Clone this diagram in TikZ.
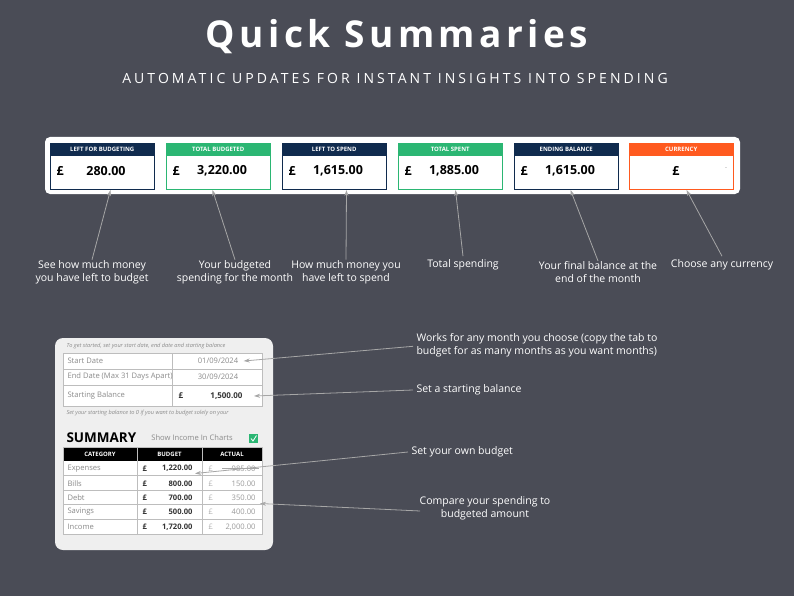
\documentclass[tikz,border=0pt]{standalone}
\usepackage{fontspec}
\setmainfont{Open Sans}
\newfontfamily\spaced[LetterSpace=12]{Open Sans}
\newfontfamily\spacedsub[LetterSpace=22]{Open Sans}
\usetikzlibrary{positioning}
\usetikzlibrary{arrows.meta}
\definecolor{bgdark}{HTML}{4A4C56}
\definecolor{navy}{HTML}{102B4E}
\definecolor{mint}{HTML}{2BB673}
\definecolor{flame}{HTML}{FF5A1F}
\definecolor{panel}{HTML}{EFEFEF}
\definecolor{gridc}{HTML}{BDBDBD}
\definecolor{faint}{HTML}{8A8A8A}
\begin{document}
\begin{tikzpicture}[x=1pt,y=-1pt,
    cardhead/.style={minimum width=104pt, minimum height=13pt, inner sep=0pt, text=white, font=\fontsize{6}{7}\selectfont\bfseries},
    cardbody/.style={draw=#1, line width=1pt, fill=white, minimum width=104pt, minimum height=46pt, inner sep=0pt},
    amount/.style={font=\fontsize{12.5}{14}\selectfont\bfseries, text=black},
    note/.style={text=white, font=\fontsize{10.5}{13}\selectfont, align=center},
    pointer/.style={draw=gray!70, line width=0.8pt, -{Stealth[length=6pt,width=4pt]}},
    cell/.style={font=\fontsize{7.6}{9}\selectfont, text=faint},
    ]
    %Background
    \fill[bgdark] (0,0) rectangle (794,596);
    \useasboundingbox (0,0) rectangle (794,596);
    \node[text=white, font=\fontsize{37}{42}\selectfont\bfseries\spaced] (title) at (397,37) {Quick Summaries};
    \node[text=white, font=\fontsize{14}{16}\selectfont\spacedsub] (subtitle) at (395,78) {AUTOMATIC UPDATES FOR INSTANT INSIGHTS INTO SPENDING};

    %Cards
    \fill[white, rounded corners=5pt] (45,137) rectangle (740,194);
    \foreach \x/\c/\h/\v/\n in {50/navy/LEFT FOR BUDGETING/280.00/a, 166/mint/TOTAL BUDGETED/{3,220.00}/b, 282/navy/LEFT TO SPEND/{1,615.00}/c, 398/mint/TOTAL SPENT/{1,885.00}/d, 514/navy/ENDING BALANCE/{1,615.00}/e}{
        \node[cardbody=\c, anchor=north west] (card\n) at (\x,143) {};
        \node[cardhead, fill=\c, anchor=north west] at (\x,143) {\h};
        \node[amount, anchor=west] at (\x+3,171) {£};
        \node[amount] at (\x+56,171) {\v};
    }
    \node[cardbody=flame, anchor=north west] (cardf) at (629,143) {};
    \node[cardhead, fill=flame, anchor=north west] at (629,143) {CURRENCY};
    \node[amount] at (676,171) {£};
    \node[text=gray, font=\tiny] at (726,170) {\textasciicaron};

    %Labels
    \node[note] (la) at (92,272) {See how much money\\you have left to budget};
    \node[note] (lb) at (235,272) {Your budgeted\\spending for the month};
    \node[note] (lc) at (346,272) {How much money you\\have left to spend};
    \node[note] (ld) at (463,265) {Total spending};
    \node[note] (le) at (598,272) {Your final balance at the\\end of the month};
    \node[note] (lf) at (722,265) {Choose any currency};

    \draw[pointer] (la.north) ++(0,3) -- ([xshift=8pt]carda.south);
    \draw[pointer] (lb.north) ++(0,3) -- ([xshift=-6pt]cardb.south);
    \draw[pointer] (lc.north) ++(0,3) -- ([xshift=12pt]cardc.south);
    \draw[pointer] (ld.north) -- ([xshift=5pt]cardd.south);
    \draw[pointer] (le.north) ++(0,3) -- ([xshift=4pt]carde.south);
    \draw[pointer] (lf.north) -- ([xshift=5pt]cardf.south);

    %Sheet
    \fill[panel, rounded corners=8pt] (55,338) rectangle (273,550);
    \node[cell, font=\fontsize{5.6}{6}\selectfont\itshape, anchor=west] at (63,346) {To get started, set your start date, end date and starting balance};
    \fill[white] (63,353) rectangle (262,406);
    \draw[gridc] (63,353) rectangle (262,406) (63,369) -- (262,369) (63,385) -- (262,385) (172,353) -- (172,406);
    \node[cell, anchor=west] at (64,361) {Start Date};
    \node[cell, anchor=west] at (64,377) {End Date (Max 31 Days Apart)};
    \node[cell, anchor=west] at (64,396) {Starting Balance};
    \node[cell] (startdate) at (218,361) {01/09/2024};
    \node[cell] at (218,377) {30/09/2024};
    \node[cell, text=black!80, font=\fontsize{8}{9}\selectfont\bfseries, anchor=west] at (175,396) {£};
    \node[cell, text=black!80, font=\fontsize{8}{9}\selectfont\bfseries, anchor=east] (startbal) at (246,396) {1,500.00};
    \node[cell, font=\fontsize{5.6}{6}\selectfont\itshape, anchor=west] at (63,413) {Set your starting balance to 0 if you want to budget solely on your};
    \node[anchor=west, font=\fontsize{13.5}{15}\selectfont\bfseries] at (63,438) {SUMMARY};
    \node[cell] at (192,438) {Show Income In Charts};
    \fill[mint] (249,434) rectangle (258,443);
    \draw[white, line width=0.8pt] (251,438.5) -- (253,441) -- (256.5,435.5);

    \fill[black] (63,447) rectangle (262,461);
    \foreach \x/\t in {100/CATEGORY, 169.5/BUDGET, 232/ACTUAL}
        \node[text=white, font=\fontsize{6}{7}\selectfont\bfseries] at (\x,454) {\t};
    \fill[white] (63,461) rectangle (262,534);
    \draw[gridc] (63,447) rectangle (262,534) (137,447) -- (137,534) (202,447) -- (202,534);
    \foreach \y in {475.5,490,504.5,519} \draw[gridc] (63,\y) -- (262,\y);
    \foreach \y/\c/\b/\a [count=\i] in {468.5/Expenses/{1,220.00}/985.00, 483.5/Bills/800.00/150.00, 497.5/Debt/700.00/350.00, 512/Savings/500.00/400.00, 527/Income/{1,720.00}/{2,000.00}}{
        \node[cell, anchor=west] at (64,\y) {\c};
        \node[cell, text=black!80, font=\fontsize{7.6}{9}\selectfont\bfseries, anchor=west] at (139,\y) {£};
        \node[cell, text=black!80, font=\fontsize{7.6}{9}\selectfont\bfseries, anchor=east] (bud\i) at (196,\y) {\b};
        \node[cell, text=gray!60, anchor=west] at (205,\y) {£};
        \node[cell, text=gray!80, anchor=east] (act\i) at (259,\y) {\a};
    }
    \draw[gray!70] (act1.west) ++(-6,0) -- (act1.east);

    %Annotations
    \node[note, align=left, anchor=north west] (wa) at (413,330) {Works for any month you choose (copy the tab to\\budget for as many months as you want months)};
    \node[note, anchor=west] (wb) at (413,390) {Set a starting balance};
    \node[note, anchor=west] (wc) at (408,452) {Set your own budget};
    \node[note] (wd) at (485,508) {Compare your spending to\\budgeted amount};

    \draw[pointer] ([yshift=-1pt]wa.west) -- ([xshift=2pt]startdate.east);
    \draw[pointer] (wb.west) -- ([xshift=8pt]startbal.east);
    \draw[pointer] (wc.west) -- ([xshift=-1pt,yshift=-5pt]bud1.east);
    \draw[pointer] ([xshift=4pt,yshift=-3pt]wd.west) -- ([xshift=1pt,yshift=-6pt]act3.east);
\end{tikzpicture}
\end{document}
